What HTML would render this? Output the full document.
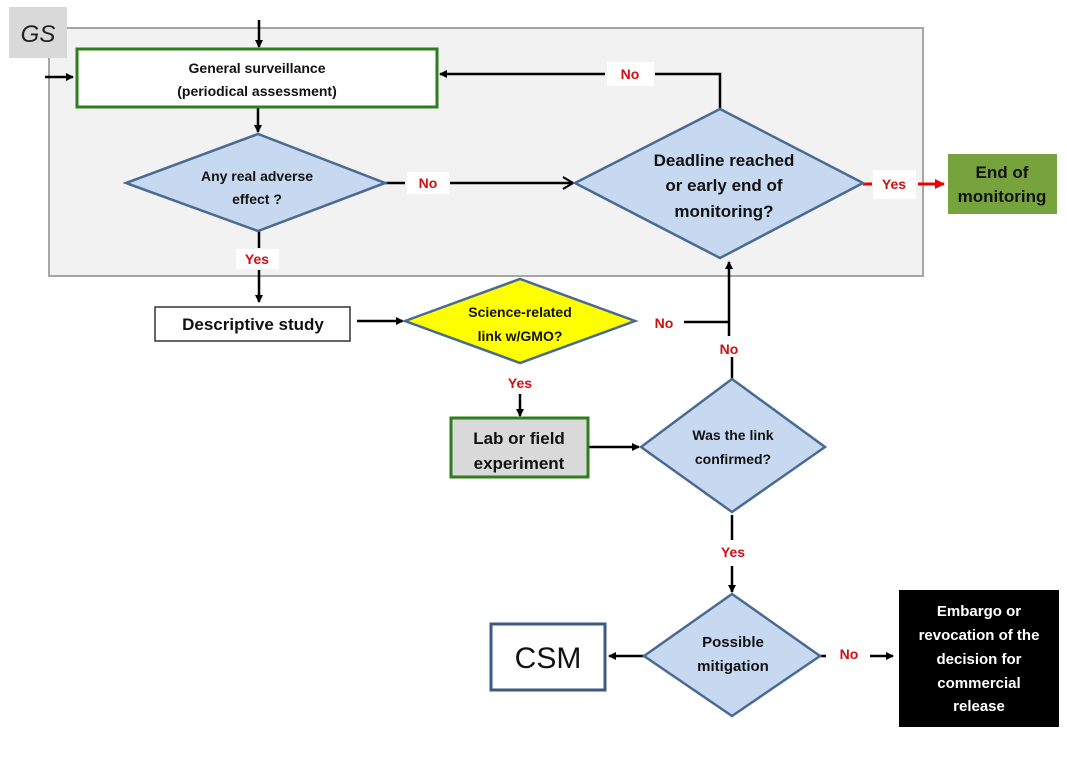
<!DOCTYPE html>
<html><head><meta charset="utf-8"><style>
html,body{margin:0;padding:0;background:#fff;}
svg{display:block;font-family:"Liberation Sans",sans-serif;}
</style></head><body>
<svg width="1067" height="761" viewBox="0 0 1067 761" xmlns="http://www.w3.org/2000/svg">
<defs>
<marker id="a" markerWidth="8" markerHeight="8" refX="7" refY="4" orient="auto" markerUnits="userSpaceOnUse"><path d="M0,0 L8,4 L0,8 Z" fill="#000"/></marker>
<marker id="o" markerWidth="12" markerHeight="14" refX="11" refY="7" orient="auto" markerUnits="userSpaceOnUse"><path d="M1,1 L11,7 L1,13" fill="none" stroke="#000" stroke-width="2"/></marker>
<marker id="r" markerWidth="10" markerHeight="10" refX="9" refY="5" orient="auto" markerUnits="userSpaceOnUse"><path d="M0,0 L10,5 L0,10 Z" fill="#e00"/></marker>
</defs>
<rect x="49" y="28" width="874" height="248" fill="#f2f2f2" stroke="#a6a6a6" stroke-width="2"/>
<rect x="9" y="7" width="58" height="51" fill="#d9d9d9"/>
<text x="38" y="42" font-size="24" font-style="italic" text-anchor="middle" fill="#222">GS</text>

<g stroke="#000" stroke-width="2.5" fill="none">
<line x1="259" y1="20" x2="259" y2="47" marker-end="url(#a)"/>
<line x1="45" y1="77" x2="73" y2="77" marker-end="url(#a)"/>
<line x1="258" y1="107" x2="258" y2="132" marker-end="url(#a)"/>
<line x1="385" y1="183" x2="405" y2="183"/>
<line x1="450" y1="183" x2="573" y2="183" marker-end="url(#o)"/>
<polyline points="720,109 720,74 655,74"/>
<line x1="605" y1="74" x2="440" y2="74" marker-end="url(#a)"/>
<line x1="259" y1="231" x2="259" y2="248"/>
<line x1="259" y1="270" x2="259" y2="302" marker-end="url(#a)"/>
<line x1="357" y1="321" x2="403" y2="321" marker-end="url(#a)"/>
<polyline points="684,322 729,322"/>
<line x1="729" y1="336" x2="729" y2="262" marker-end="url(#a)"/>
<line x1="520" y1="394" x2="520" y2="416" marker-end="url(#a)"/>
<line x1="588" y1="447" x2="639" y2="447" marker-end="url(#a)"/>
<line x1="732" y1="515" x2="732" y2="540"/>
<line x1="732" y1="566" x2="732" y2="592" marker-end="url(#a)"/>
<line x1="644" y1="656" x2="609" y2="656" marker-end="url(#a)"/>
<line x1="820" y1="656" x2="826" y2="656"/>
<line x1="870" y1="656" x2="893" y2="656" marker-end="url(#a)"/>
</g>
<line x1="863" y1="184" x2="872" y2="184" stroke="#e00" stroke-width="3"/>
<line x1="918" y1="184" x2="944" y2="184" stroke="#e00" stroke-width="3" marker-end="url(#r)"/>

<rect x="77" y="49" width="360" height="58" fill="#fff" stroke="#2e7d1e" stroke-width="3"/>
<text x="257" y="73" font-size="14" font-weight="bold" text-anchor="middle" fill="#111">General surveillance</text>
<text x="257" y="96" font-size="14" font-weight="bold" text-anchor="middle" fill="#111">(periodical  assessment)</text>

<polygon points="126,183 258,134 385,183 258,231" fill="#c6d9f1" stroke="#4a6a91" stroke-width="2.5"/>
<text x="257" y="181" font-size="14" font-weight="bold" text-anchor="middle" fill="#111">Any  real adverse</text>
<text x="257" y="204" font-size="14" font-weight="bold" text-anchor="middle" fill="#111">effect ?</text>

<polygon points="575,183 720,109 863,183 720,258" fill="#c6d9f1" stroke="#4a6a91" stroke-width="2.5"/>
<text x="724" y="166" font-size="17" font-weight="bold" text-anchor="middle" fill="#111">Deadline reached</text>
<text x="724" y="191" font-size="17" font-weight="bold" text-anchor="middle" fill="#111">or early end of</text>
<text x="724" y="217" font-size="17" font-weight="bold" text-anchor="middle" fill="#111">monitoring?</text>

<rect x="947" y="152" width="112" height="66" fill="#fff" opacity="0.9"/>
<rect x="948" y="154" width="109" height="60" fill="#77a33c"/>
<text x="1002" y="178" font-size="17" font-weight="bold" text-anchor="middle" fill="#111">End of</text>
<text x="1002" y="202" font-size="17" font-weight="bold" text-anchor="middle" fill="#111">monitoring</text>

<rect x="155" y="307" width="195" height="34" fill="#fff" stroke="#333" stroke-width="1.5"/>
<text x="253" y="330" font-size="17" font-weight="bold" text-anchor="middle" fill="#111">Descriptive study</text>

<polygon points="405,321 520,279 635,321 520,363" fill="#ffff00" stroke="#4a6a91" stroke-width="2.5"/>
<text x="520" y="317" font-size="14" font-weight="bold" text-anchor="middle" fill="#111">Science-related</text>
<text x="520" y="341" font-size="14" font-weight="bold" text-anchor="middle" fill="#111">link w/GMO?</text>

<rect x="451" y="418" width="137" height="59" fill="#d9d9d9" stroke="#2e7d1e" stroke-width="3"/>
<text x="519" y="444" font-size="17" font-weight="bold" text-anchor="middle" fill="#111">Lab or field</text>
<text x="519" y="469" font-size="17" font-weight="bold" text-anchor="middle" fill="#111">experiment</text>

<line x1="732" y1="357" x2="732" y2="379" stroke="#000" stroke-width="2.5"/>
<polygon points="641,447 732,379 825,447 732,512" fill="#c6d9f1" stroke="#4a6a91" stroke-width="2.5"/>
<text x="733" y="440" font-size="14" font-weight="bold" text-anchor="middle" fill="#111">Was the link</text>
<text x="733" y="464" font-size="14" font-weight="bold" text-anchor="middle" fill="#111">confirmed?</text>

<polygon points="644,656 732,594 820,656 732,716" fill="#c6d9f1" stroke="#4a6a91" stroke-width="2.5"/>
<text x="733" y="647" font-size="15" font-weight="bold" text-anchor="middle" fill="#111">Possible</text>
<text x="733" y="671" font-size="15" font-weight="bold" text-anchor="middle" fill="#111">mitigation</text>

<rect x="491" y="624" width="114" height="66" fill="#fff" stroke="#3d5a80" stroke-width="3"/>
<text x="548" y="668" font-size="30" text-anchor="middle" fill="#111">CSM</text>

<rect x="899" y="590" width="160" height="137" fill="#000"/>
<g font-size="15" font-weight="bold" text-anchor="middle" fill="#fff">
<text x="979" y="616">Embargo or</text>
<text x="979" y="640">revocation of the</text>
<text x="979" y="664">decision for</text>
<text x="979" y="688">commercial</text>
<text x="979" y="711">release</text>
</g>

<g font-size="14" font-weight="bold" text-anchor="middle" fill="#d01010">
<rect x="407" y="172" width="42" height="22" fill="#fff"/>
<text x="428" y="188">No</text>
<rect x="607" y="62" width="47" height="24" fill="#fff"/>
<text x="630" y="79">No</text>
<rect x="873" y="170" width="43" height="29" fill="#fff"/>
<text x="894" y="189">Yes</text>
<rect x="236" y="249" width="43" height="20" fill="#fff"/>
<text x="257" y="264">Yes</text>
<text x="664" y="328">No</text>
<text x="729" y="354">No</text>
<text x="520" y="388">Yes</text>
<text x="733" y="557">Yes</text>
<text x="849" y="659">No</text>
</g>
</svg>
</body></html>
